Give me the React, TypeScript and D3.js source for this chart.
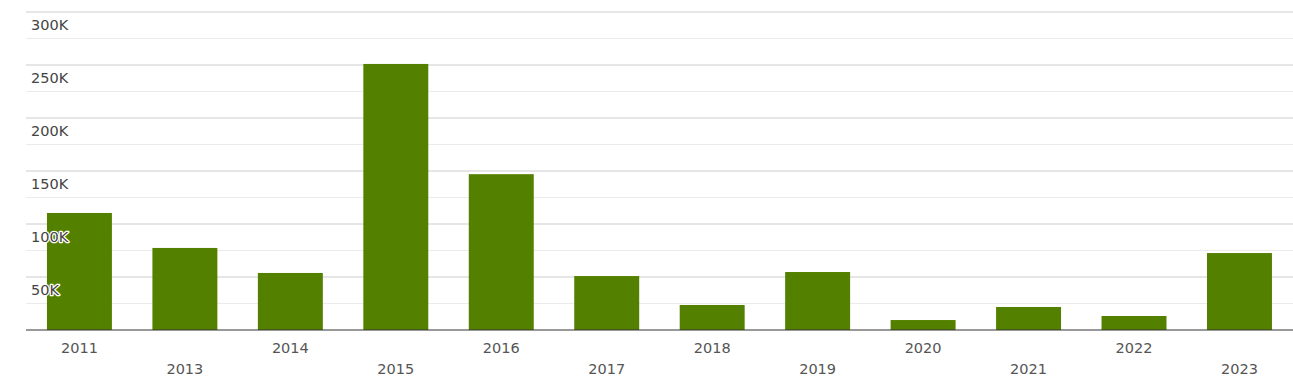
import React from "react";
import * as d3 from "d3";

const years = ["2011", "2013", "2014", "2015", "2016", "2017", "2018", "2019", "2020", "2021", "2022", "2023"];
const values = [110400, 77400, 53800, 251000, 147000, 50900, 23600, 54700, 9400, 21700, 13200, 72600];
const yTicks = [50000, 100000, 150000, 200000, 250000, 300000];
const minorTicks = [25000, 75000, 125000, 175000, 225000, 275000];

const W = 1293;
const H = 384;
const left = 26;
const top = 12;
const bottom = 330;

export default function App() {
  const p = 0.384;
  const x = d3.scaleBand<string>().domain(years).range([26.7, 1292.2]).paddingInner(p).paddingOuter(p / 2);
  const y = d3.scaleLinear().domain([0, 300000]).range([bottom, top]);
  const fmt = (v: number) => `${v / 1000}K`;
  const font = "'DejaVu Sans', Verdana, sans-serif";
  return (
    <svg width={W} height={H} style={{ position: "absolute", left: 0, top: 0 }}>
      <rect width={W} height={H} fill="#fff" />
      {minorTicks.map((t) => (
        <line key={"m" + t} x1={left} x2={W} y1={y(t)} y2={y(t)} stroke="#ebebeb" strokeWidth={1} />
      ))}
      {yTicks.map((t) => (
        <line key={"g" + t} x1={left} x2={W} y1={y(t)} y2={y(t)} stroke="#cccccc" strokeWidth={1} />
      ))}
      {years.map((yr, i) => (
        <rect key={yr} x={x(yr)} y={y(values[i])} width={x.bandwidth()} height={bottom - y(values[i])} fill="#548000" />
      ))}
      <line x1={left} x2={W} y1={bottom} y2={bottom} stroke="#333" strokeWidth={1} />
      {yTicks.map((t) => (
        <text
          key={"l" + t}
          x={31}
          y={y(t) + 18}
          fontFamily={font}
          fontSize={14.5}
          fill="#444"
          stroke="#fff"
          strokeWidth={2.5}
          strokeLinejoin="round"
          style={{ paintOrder: "stroke" }}
        >
          {fmt(t)}
        </text>
      ))}
      {years.map((yr, i) => (
        <text
          key={"x" + yr}
          x={(x(yr) as number) + x.bandwidth() / 2}
          y={i % 2 === 0 ? 353 : 374}
          textAnchor="middle"
          fontFamily={font}
          fontSize={14.5}
          fill="#555"
        >
          {yr}
        </text>
      ))}
    </svg>
  );
}
